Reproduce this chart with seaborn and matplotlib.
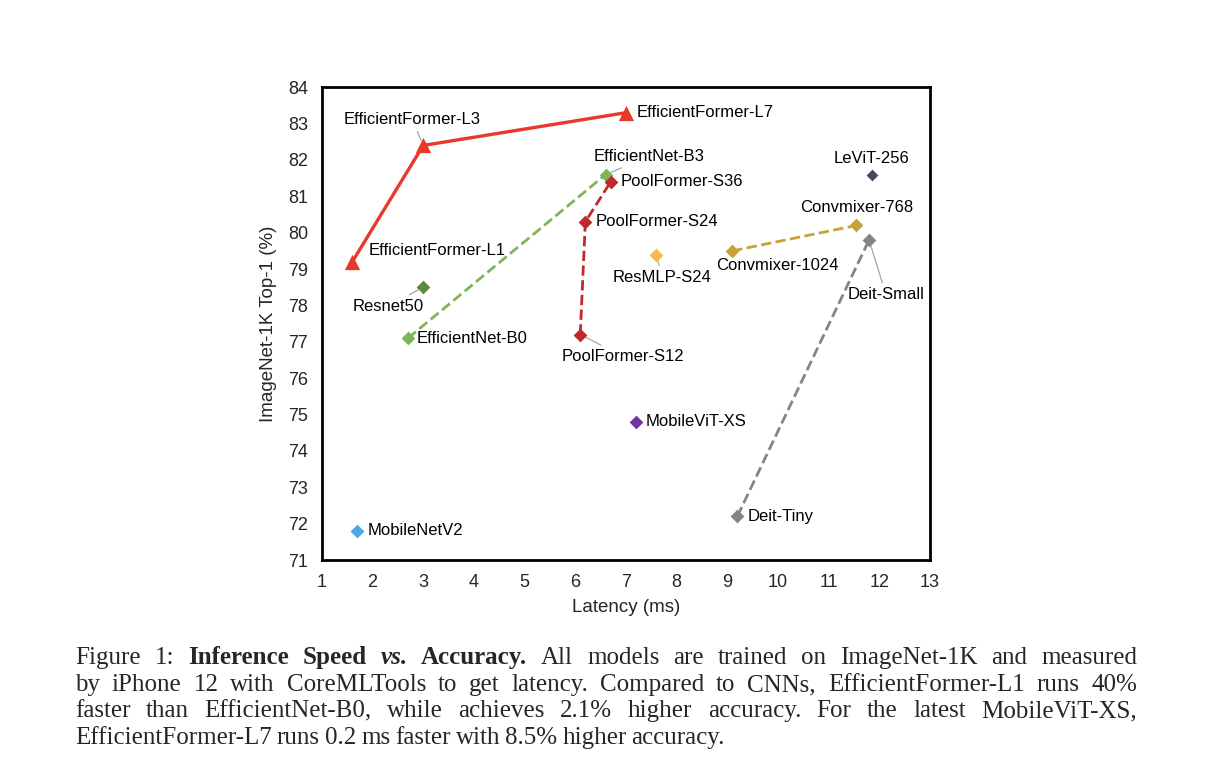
import matplotlib
matplotlib.use("Agg")
import matplotlib.pyplot as plt
import seaborn as sns
import pandas as pd

# ---- data ----
models = [
    "EfficientFormer-L1", "EfficientFormer-L3", "EfficientFormer-L7",
    "EfficientNet-B0", "EfficientNet-B3", "Resnet50",
    "PoolFormer-S12", "PoolFormer-S24", "PoolFormer-S36",
    "ResMLP-S24", "Convmixer-1024", "Convmixer-768",
    "LeViT-256", "Deit-Tiny", "Deit-Small",
    "MobileViT-XS", "MobileNetV2",
]
families = [
    "EfficientFormer", "EfficientFormer", "EfficientFormer",
    "EfficientNet", "EfficientNet", "Resnet",
    "PoolFormer", "PoolFormer", "PoolFormer",
    "ResMLP", "Convmixer", "Convmixer",
    "LeViT", "Deit", "Deit",
    "MobileViT", "MobileNet",
]
latency = [1.6, 3.0, 7.0, 2.7, 6.6, 3.0, 6.1, 6.2, 6.7, 7.6, 9.1, 11.55,
           11.85, 9.2, 11.8, 7.2, 1.7]
top1 = [79.2, 82.4, 83.3, 77.1, 81.6, 78.5, 77.2, 80.3, 81.4, 79.4, 79.5, 80.2,
        81.6, 72.2, 79.8, 74.8, 71.8]

x_ticks = list(range(1, 14))
y_ticks = list(range(71, 85))

# ---- styles ----
family_style = {
    "EfficientFormer": dict(color="#e8392c", ls="-", marker="^", ms=11),
    "EfficientNet": dict(color="#7fb55a", ls="--", marker="D", ms=7),
    "Resnet": dict(color="#5f8a3e", ls="", marker="D", ms=7),
    "PoolFormer": dict(color="#c0282b", ls="--", marker="D", ms=7),
    "ResMLP": dict(color="#f2c040", ls="", marker="D", ms=7),
    "Convmixer": dict(color="#c9a139", ls="--", marker="D", ms=7),
    "LeViT": dict(color="#3f4a5e", ls="", marker="D", ms=6),
    "Deit": dict(color="#858585", ls="--", marker="D", ms=7),
    "MobileViT": dict(color="#6f33a3", ls="", marker="D", ms=7),
    "MobileNet": dict(color="#4da7e2", ls="", marker="D", ms=7),
}

# label offsets in pixels: (dx, dy, ha, leader line)
label_pos = {
    "EfficientFormer-L1": (16, 11, "left", False),
    "EfficientFormer-L3": (-11, 26, "center", True),
    "EfficientFormer-L7": (11, 0, "left", False),
    "EfficientNet-B0": (9, 0, "left", False),
    "EfficientNet-B3": (43, 18, "center", True),
    "Resnet50": (-35, -19, "center", True),
    "PoolFormer-S12": (43, -22, "center", True),
    "PoolFormer-S24": (10, 0, "left", False),
    "PoolFormer-S36": (10, 0, "left", False),
    "ResMLP-S24": (6, -23, "center", True),
    "Convmixer-1024": (45, -15, "center", False),
    "Convmixer-768": (0, 18, "center", True),
    "LeViT-256": (0, 16, "center", False),
    "Deit-Tiny": (10, 0, "left", False),
    "Deit-Small": (17, -55, "center", True),
    "MobileViT-XS": (10, 0, "left", False),
    "MobileNetV2": (10, 0, "left", False),
}

df = pd.DataFrame({"model": models, "family": families,
                   "latency": latency, "top1": top1})

sns.set_style("white")
plt.rcParams["font.family"] = ["Liberation Sans", "DejaVu Sans"]

fig = plt.figure(figsize=(12.1, 7.84), dpi=100)
ax = fig.add_axes([0.266, 0.2857, 0.5025, 0.603])

for fam, sub in df.groupby("family", sort=False):
    st = family_style[fam]
    if st["ls"]:
        sns.lineplot(data=sub, x="latency", y="top1", sort=False, ax=ax,
                     color=st["color"], linestyle=st["ls"],
                     lw=2.4 if st["ls"] == "-" else 2.0,
                     dashes=False if st["ls"] == "-" else (3, 2.2),
                     estimator=None)
    sns.scatterplot(data=sub, x="latency", y="top1", ax=ax, color=st["color"],
                    marker=st["marker"], s=st["ms"] ** 2, linewidth=0,
                    zorder=5)

for m, x, y in zip(models, latency, top1):
    dx, dy, ha, leader = label_pos[m]
    ax.annotate(m, (x, y), xytext=(dx, dy), textcoords="offset pixels",
                ha=ha, va="center", fontsize=12, color="black",
                arrowprops=dict(arrowstyle="-", color="#a6a6a6", lw=0.9,
                                shrinkA=1, shrinkB=4) if leader else None)

ax.set_xlim(1, 13)
ax.set_ylim(71, 84)
ax.set_xticks(x_ticks)
ax.set_yticks(y_ticks)
ax.tick_params(length=0, labelsize=13, pad=10)
ax.set_xlabel("Latency (ms)", fontsize=13.5, labelpad=6)
ax.set_ylabel("ImageNet-1K Top-1 (%)", fontsize=13.5, labelpad=8)
for sp in ax.spines.values():
    sp.set_visible(True)
    sp.set_color("black")
    sp.set_linewidth(2)
ax.grid(False)

# ---- caption, justified like the paper ----
caption = [
    [("Figure", "n"), ("1:", "n"), ("Inference", "b"), ("Speed", "b"), ("vs.", "bi"),
     ("Accuracy.", "b"), ("All", "n"), ("models", "n"), ("are", "n"), ("trained", "n"),
     ("on", "n"), ("ImageNet-1K", "n"), ("and", "n"), ("measured", "n")],
    [(w, "n") for w in "by iPhone 12 with CoreMLTools to get latency. Compared to CNNs, "
     "EfficientFormer-L1 runs 40%".split()],
    [(w, "n") for w in "faster than EfficientNet-B0, while achieves 2.1% higher accuracy. "
     "For the latest MobileViT-XS,".split()],
    [(w, "n") for w in "EfficientFormer-L7 runs 0.2 ms faster with 8.5% higher accuracy.".split()],
]
style_kw = {"n": dict(), "b": dict(fontweight="bold"),
            "bi": dict(fontweight="bold", fontstyle="italic")}
left_px, right_px = 75, 1137
baselines = [664, 691, 717, 744]
W, H = fig.get_size_inches() * fig.dpi
renderer = fig.canvas.get_renderer()
for li, (line, base) in enumerate(zip(caption, baselines)):
    texts = [fig.text(0, 1 - base / H, w, fontsize=18, va="baseline",
                      family=["Liberation Serif", "DejaVu Serif"], **style_kw[s])
             for w, s in line]
    widths = [t.get_window_extent(renderer).width for t in texts]
    if li < len(caption) - 1:
        gap = (right_px - left_px - sum(widths)) / (len(texts) - 1)
    else:
        gap = 5
    xp = left_px
    for t, w in zip(texts, widths):
        t.set_x(xp / W)
        xp += w + gap

fig.savefig("out.png", dpi=100)
